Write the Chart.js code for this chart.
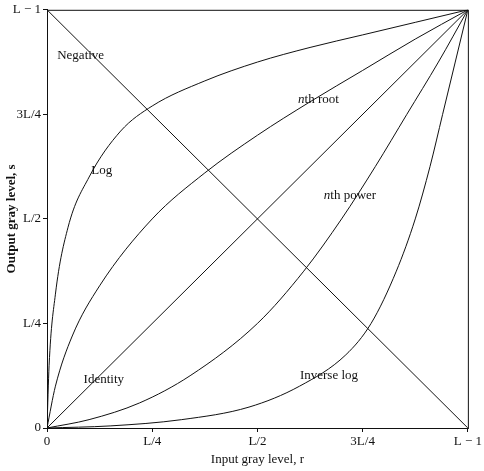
<!DOCTYPE html>
<html><head><meta charset="utf-8">
<script src="https://cdn.jsdelivr.net/npm/chart.js@4"></script>
<style>html,body{margin:0;padding:0;background:#fff}#w{width:484px;height:471px}</style>
</head><body><div id="w"><canvas id="c"></canvas></div>
<script>
const tickValues=[0,0.25,0.5,0.75,1];
const tickLabels=['0','L/4','L/2','3L/4','L \u2212 1'];
const identityPts=[[0,0],[1,1]];
const negativePts=[[0,1],[1,0]];
const logPts=[[0,0],[0.005,0.15],[0.02,0.32],[0.05,0.48],[0.1,0.60],[0.175,0.71],[0.25,0.77],[0.375,0.83],[0.5,0.875],[0.625,0.91],[0.75,0.94],[0.875,0.97],[1,1]];
const rootPts=[[0,0],[0.02,0.10],[0.06,0.22],[0.125,0.34],[0.25,0.50],[0.375,0.61],[0.5,0.70],[0.625,0.78],[0.75,0.855],[0.875,0.93],[1,1]];
const powerPts=[[0,0],[0.10,0.02],[0.22,0.06],[0.34,0.125],[0.50,0.25],[0.61,0.375],[0.70,0.5],[0.78,0.625],[0.855,0.75],[0.93,0.875],[1,1]];
const invLogPts=[[0,0],[0.15,0.005],[0.32,0.02],[0.48,0.05],[0.60,0.1],[0.71,0.175],[0.77,0.25],[0.83,0.375],[0.875,0.5],[0.91,0.625],[0.94,0.75],[0.97,0.875],[1,1]];
const curveLabels=[['Negative',0.08,0.89,false],['Log',0.13,0.615,false],['nth root',0.645,0.785,true],['nth power',0.72,0.555,true],['Identity',0.135,0.115,false],['Inverse log',0.67,0.125,false]];
const mk=(p)=>({data:p.map(a=>({x:a[0],y:a[1]})),showLine:true,borderColor:'#111',borderWidth:1,pointRadius:0,cubicInterpolationMode:'monotone',fill:false});
const F='"Liberation Serif", "DejaVu Serif", serif';
const deco={id:'deco',afterDatasetsDraw(ch){const c=ch.ctx,a=ch.chartArea,xs=ch.scales.x,ys=ch.scales.y;
 c.save();c.strokeStyle='#111';c.lineWidth=1;c.strokeRect(a.left+0.5,a.top+0.5,a.right-a.left,a.bottom-a.top);
 c.fillStyle='#111';c.textAlign='center';c.textBaseline='middle';
 for(const [t,x,y,n] of curveLabels){const px=xs.getPixelForValue(x),py=ys.getPixelForValue(y);
  if(n){const w1=(c.font=`italic 13px ${F}`,c.measureText('n').width);c.font=`13px ${F}`;const rest=t.slice(1);const w2=c.measureText(rest).width;const s=px-(w1+w2)/2;
   c.textAlign='left';c.font=`italic 13px ${F}`;c.fillText('n',s,py);c.font=`13px ${F}`;c.fillText(rest,s+w1,py);c.textAlign='center';}
  else{c.font=`13px ${F}`;c.fillText(t,px,py);}}
 c.restore();}};
new Chart(document.getElementById('c'),{type:'scatter',
 data:{datasets:[mk(identityPts),mk(negativePts),mk(logPts),mk(rootPts),mk(powerPts),mk(invLogPts)]},
 options:{responsive:true,maintainAspectRatio:false,animation:false,
  layout:{padding:{left:0,right:16,top:5,bottom:0}},
  plugins:{legend:{display:false},tooltip:{enabled:false}},
  scales:{
   x:{type:'linear',min:0,max:1,afterBuildTicks(s){s.ticks=tickValues.map(v=>({value:v}));},afterFit(s){s.height=43;},
    ticks:{autoSkip:false,maxRotation:0,color:'#111',font:{family:F,size:13},padding:2,callback:(v)=>tickLabels[tickValues.indexOf(v)]},
    grid:{drawOnChartArea:false,color:'#111',tickLength:4},border:{color:'#111'},
    title:{display:true,text:'Input gray level, r',color:'#111',font:{family:F,size:13},padding:{top:4}}},
   y:{type:'linear',min:0,max:1,afterBuildTicks(s){s.ticks=tickValues.map(v=>({value:v}));},afterFit(s){s.width=47;},
    ticks:{autoSkip:false,color:'#111',font:{family:F,size:13},padding:2,callback:(v)=>tickLabels[tickValues.indexOf(v)]},
    grid:{drawOnChartArea:false,color:'#111',tickLength:4},border:{color:'#111'},
    title:{display:true,text:'Output gray level, s',color:'#111',font:{family:F,size:13,weight:'bold'},padding:{bottom:0}}}}},
 plugins:[deco]});
</script></body></html>
